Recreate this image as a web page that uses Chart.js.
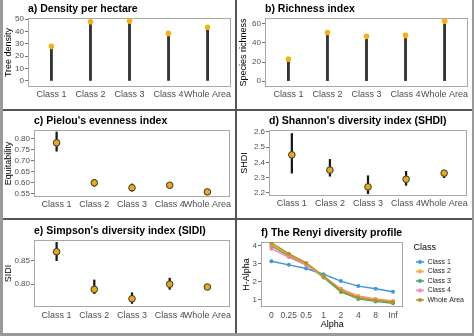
<!DOCTYPE html>
<html>
<head>
<meta charset="utf-8">
<title>Diversity indices by class</title>
<script src="https://cdn.jsdelivr.net/npm/chart.js@4.4.1/dist/chart.umd.min.js"></script>
<style>
  body { margin: 0; background: #fff; }
  #wrap { position: relative; width: 474px; height: 336px; background: #9a9a9a; overflow: hidden; }
  #inner { position: absolute; left: 3px; top: 0; width: 469px; height: 333px; background: #555; }
  .panel { position: absolute; background: #fff; }
  canvas { position: absolute; }
</style>
</head>
<body>
<div id="wrap">
  <div id="inner"></div>
  <div class="panel" style="left:3px;top:0;width:232px;height:109px"></div>
  <div class="panel" style="left:237px;top:0;width:235px;height:109px"></div>
  <div class="panel" style="left:3px;top:111px;width:232px;height:107px"></div>
  <div class="panel" style="left:237px;top:111px;width:235px;height:107px"></div>
  <div class="panel" style="left:3px;top:220px;width:232px;height:113px"></div>
  <div class="panel" style="left:237px;top:220px;width:235px;height:113px"></div>
  <canvas id="density" width="232" height="109" style="left:3px;top:0"></canvas>
  <canvas id="richness" width="235" height="109" style="left:237px;top:0"></canvas>
  <canvas id="pielou" width="232" height="107" style="left:3px;top:111px"></canvas>
  <canvas id="shannon" width="235" height="107" style="left:237px;top:111px"></canvas>
  <canvas id="simpson" width="232" height="113" style="left:3px;top:220px"></canvas>
  <canvas id="renyi" width="249" height="113" style="left:225px;top:220px"></canvas>
</div>
<script>
Chart.defaults.font.family = "'Liberation Sans', Arial, sans-serif";
Chart.defaults.color = '#4d4d4d';

var classes = ['Class 1', 'Class 2', 'Class 3', 'Class 4', 'Whole Area'];

var density = [28, 48, 48.5, 38.5, 43.5];
var densityTicks = [0, 10, 20, 30, 40, 50];

var richness = [23, 51, 47, 48, 63];
var richnessTicks = [0, 20, 40, 60];

var pielou = [0.781, 0.600, 0.578, 0.589, 0.559];
var pielouLow = [0.743, 0.585, 0.562, 0.581, 0.556];
var pielouHigh = [0.830, 0.615, 0.595, 0.597, 0.563];
var pielouTicks = [0.55, 0.60, 0.65, 0.70, 0.75, 0.80];

var shdi = [2.45, 2.35, 2.24, 2.29, 2.33];
var shdiLow = [2.33, 2.31, 2.195, 2.25, 2.30];
var shdiHigh = [2.59, 2.42, 2.313, 2.342, 2.345];
var shdiTicks = [2.2, 2.3, 2.4, 2.5, 2.6];

var sidi = [0.869, 0.789, 0.769, 0.800, 0.794];
var sidiLow = [0.850, 0.780, 0.759, 0.789, 0.790];
var sidiHigh = [0.889, 0.809, 0.782, 0.813, 0.799];
var sidiTicks = [0.80, 0.85];

var alphas = ['0', '0.25', '0.5', '1', '2', '4', '8', 'Inf'];
var renyiClass1 = [3.15, 2.95, 2.75, 2.43, 2.05, 1.77, 1.62, 1.46];
var renyiClass2 = [4.08, 3.52, 3.00, 2.30, 1.58, 1.18, 1.02, 0.92];
var renyiClass3 = [4.00, 3.45, 2.97, 2.25, 1.45, 1.06, 0.92, 0.82];
var renyiClass4 = [3.85, 3.38, 2.93, 2.32, 1.62, 1.22, 1.06, 0.95];
var renyiWhole = [4.17, 3.57, 3.06, 2.33, 1.52, 1.12, 0.97, 0.87];
var renyiTicks = [1, 2, 3, 4];

var renyiColors = ['#3c98d8', '#f8a434', '#3ea862', '#ea82b6', '#b5902a'];

// grey frame round each plot area
var boxPlugin = {
  id: 'panelBox',
  beforeDatasetsDraw: function(chart) {
    var a = chart.chartArea, c = chart.ctx;
    c.save();
    c.strokeStyle = '#a8a8a8';
    c.lineWidth = 1;
    c.strokeRect(Math.round(a.left) + 0.5, Math.round(a.top) + 0.5, Math.round(a.width) - 1, Math.round(a.height) - 1);
    c.restore();
  }
};

function xy(vals) {
  return vals.map(function(v, i) { return {x: i, y: v}; });
}
function span(lo, hi) {
  return lo.map(function(v, i) { return {x: i, y: [v, hi[i]]}; });
}

function makeChart(id, o) {
  var cats = o.cats;
  var scales = {
    x: {
      type: 'linear', min: -0.6, max: cats.length - 0.4, offset: false,
      grid: { display: false, drawTicks: false },
      border: { display: false },
      afterBuildTicks: function(s) { s.ticks = cats.map(function(c, i) { return {value: i}; }); },
      afterFit: function(s) { s.height = o.xH; },
      ticks: { autoSkip: false, maxRotation: 0, padding: o.xPad, font: { size: o.xFont }, color: '#4d4d4d',
               callback: function(v) { return cats[v]; } },
      title: o.xTitle ? { display: true, text: o.xTitle, color: '#000', font: { size: 9 }, padding: { top: 0, bottom: 2.6 } } : { display: false }
    },
    y: {
      type: 'linear', min: o.yMin, max: o.yMax,
      grid: { drawOnChartArea: false, drawTicks: true, tickLength: 3, color: '#4d4d4d', lineWidth: 0.8 },
      border: { display: false },
      afterBuildTicks: function(s) { s.ticks = o.yTicks.map(function(v) { return {value: v}; }); },
      afterFit: function(s) { s.width = o.yW; },
      ticks: { padding: 1, font: { size: 8 }, color: '#4d4d4d',
               callback: function(v) { return v.toFixed(o.dec); } },
      title: { display: true, text: o.yTitle, color: '#000', font: { size: 9 }, padding: { top: o.yTitlePad, bottom: 0 } }
    }
  };
  if (o.extraScales) Object.assign(scales, o.extraScales);

  return new Chart(document.getElementById(id), {
    type: 'bar',
    data: { datasets: o.datasets },
    options: {
      responsive: false,
      animation: false,
      events: [],
      layout: { padding: { right: o.padRight } },
      plugins: {
        legend: o.legend || { display: false },
        tooltip: { enabled: false },
        title: {
          display: true, text: o.title, align: 'start', fullSize: false, color: '#000',
          font: { size: 10.5, weight: 'bold' },
          padding: { top: o.top - 14.8, bottom: 2.2 }
        }
      },
      scales: scales
    },
    plugins: [boxPlugin]
  });
}

function lollipop(vals) {
  return [
    { type: 'line', data: xy(vals), showLine: false, pointRadius: 2.8, pointBackgroundColor: '#f5b01e',
      pointBorderWidth: 0, order: 0 },
    { type: 'bar', data: xy(vals), backgroundColor: '#333', barThickness: 2.2, order: 1 }
  ];
}

function pointRange(vals, lo, hi) {
  return [
    { type: 'line', data: xy(vals), showLine: false, pointRadius: 3.3, pointBackgroundColor: '#e8a918',
      pointBorderColor: '#333', pointBorderWidth: 1, order: 0 },
    { type: 'bar', data: span(lo, hi), backgroundColor: '#1a1a1a', barThickness: 1.6, order: 1 }
  ];
}

makeChart('density', {
  cats: classes, title: 'a) Density per hectare', yTitle: 'Tree density',
  datasets: lollipop(density), yTicks: densityTicks, yMin: -5, yMax: 51, dec: 0,
  yW: 25, top: 18, xH: 22, padRight: 2, xPad: 2.6, xFont: 9, yTitlePad: 0.6
});

makeChart('richness', {
  cats: classes, title: 'b) Richness index', yTitle: 'Species richness',
  datasets: lollipop(richness), yTicks: richnessTicks, yMin: -6.3, yMax: 66.3, dec: 0,
  yW: 28, top: 18, xH: 22, padRight: 2, xPad: 2.6, xFont: 9, yTitlePad: 1.6
});

makeChart('pielou', {
  cats: classes, title: "c) Pielou's evenness index", yTitle: 'Equitability',
  datasets: pointRange(pielou, pielouLow, pielouHigh), yTicks: pielouTicks, yMin: 0.536, yMax: 0.839, dec: 2,
  yW: 31, top: 19, xH: 21, padRight: 2, xPad: 2.6, xFont: 9, yTitlePad: 0
});

makeChart('shannon', {
  cats: classes, title: "d) Shannon's diversity index (SHDI)", yTitle: 'SHDI',
  datasets: pointRange(shdi, shdiLow, shdiHigh), yTicks: shdiTicks, yMin: 2.18, yMax: 2.613, dec: 1,
  yW: 32, top: 19, xH: 22, padRight: 2, xPad: 2.6, xFont: 9, yTitlePad: 2.1
});

makeChart('simpson', {
  cats: classes, title: "e) Simpson's diversity index (SIDI)", yTitle: 'SIDI',
  datasets: pointRange(sidi, sidiLow, sidiHigh), yTicks: sidiTicks, yMin: 0.7515, yMax: 0.894, dec: 2,
  yW: 31, top: 20, xH: 26, padRight: 2, xPad: 3.4, xFont: 9, yTitlePad: 0
});

// small line-and-dot keys for the legend
function legendMark(color) {
  var c = document.createElement('canvas');
  c.width = 8; c.height = 6;
  var g = c.getContext('2d');
  g.strokeStyle = color; g.lineWidth = 1.5;
  g.beginPath(); g.moveTo(0, 3); g.lineTo(8, 3); g.stroke();
  g.fillStyle = color;
  g.beginPath(); g.arc(4, 3, 2, 0, Math.PI * 2); g.fill();
  return c;
}
var marks = renyiColors.map(legendMark);

var renyiSeries = [renyiClass1, renyiClass2, renyiClass3, renyiClass4, renyiWhole];
var renyiOrder = [4, 1, 3, 2, 0];

// canvas starts 12px left of the panel so the right-hand legend gets enough width
makeChart('renyi', {
  cats: alphas, title: 'f) The Renyi diversity profile', yTitle: 'H-Alpha', xTitle: 'Alpha',
  datasets: renyiSeries.map(function(vals, i) {
    return {
      type: 'line', label: classes[i], data: xy(vals), yAxisID: 'y',
      borderColor: renyiColors[i], backgroundColor: renyiColors[i], borderWidth: 1.4,
      pointRadius: 2, pointBackgroundColor: renyiColors[i], pointBorderWidth: 0, order: renyiOrder[i]
    };
  }),
  yTicks: renyiTicks, yMin: 0.61, yMax: 4.22, dec: 0,
  yW: 36, top: 22, xH: 26, padRight: 0, xPad: 3.3, xFont: 8.5, yTitlePad: 16.6,
  extraScales: {
    yPad: { type: 'linear', display: false, position: 'right',
            afterFit: function(s) { s.width = 10; } }
  },
  legend: {
    display: true, position: 'right', align: 'center', fullSize: false,
    title: { display: true, text: 'Class', color: '#000', font: { size: 9 }, padding: { top: 0, bottom: 2 }, position: 'start' },
    labels: {
      usePointStyle: true, pointStyleWidth: 8, boxHeight: 7, padding: 2.5, color: '#222', font: { size: 7 },
      sort: function(a, b) { return a.datasetIndex - b.datasetIndex; },
      generateLabels: function(chart) {
        var items = Chart.defaults.plugins.legend.labels.generateLabels(chart);
        items.forEach(function(it) { it.pointStyle = marks[it.datasetIndex]; });
        return items;
      }
    }
  }
});
</script>
</body>
</html>
